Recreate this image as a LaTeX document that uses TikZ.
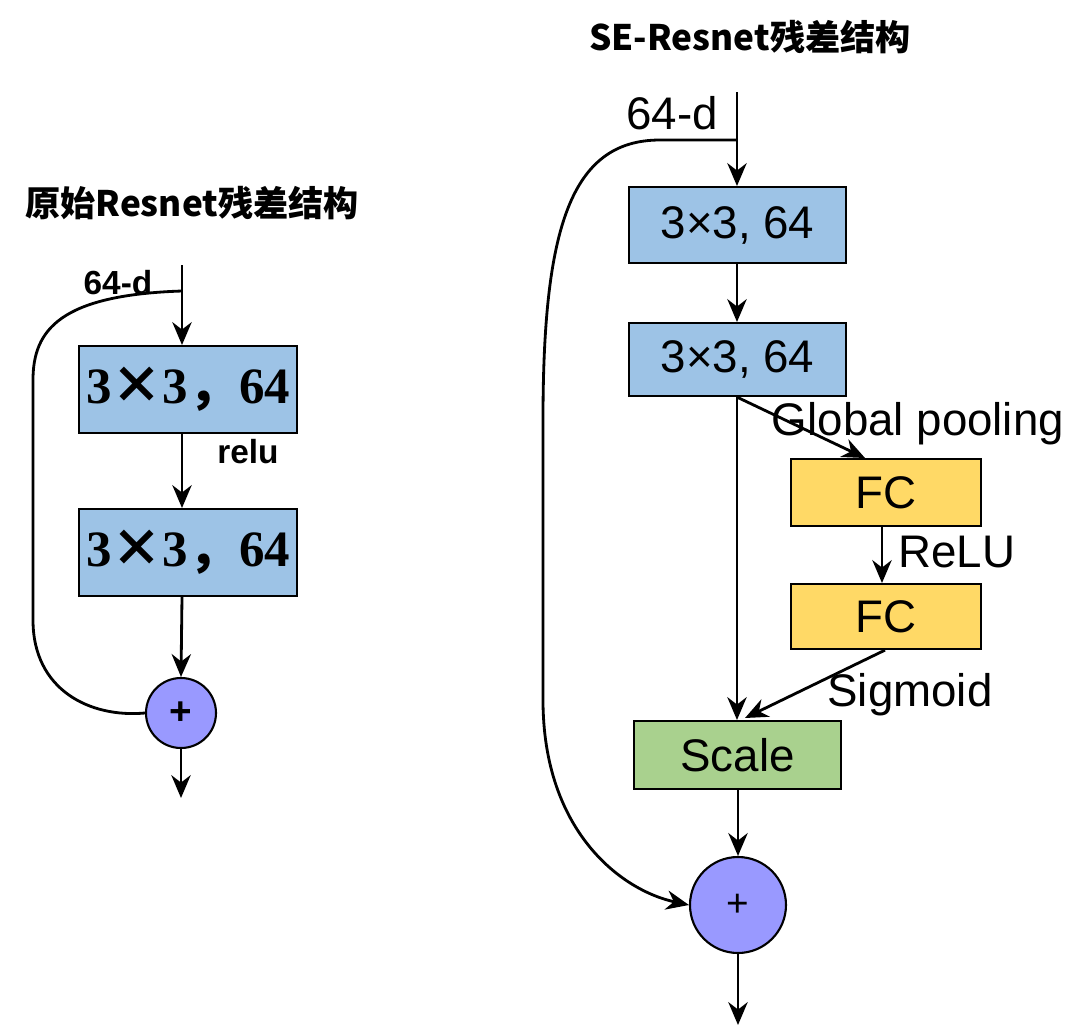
\documentclass[tikz,border=0pt]{standalone}
\usepackage{fontspec}
\setmainfont{Liberation Sans}
\newfontfamily\cjk{Noto Sans CJK SC}
\newfontfamily\tnr{Liberation Serif}
\usetikzlibrary{arrows.meta}
\definecolor{bl}{HTML}{9DC3E6}
\definecolor{ye}{HTML}{FFD966}
\definecolor{gr}{HTML}{A9D18E}
\definecolor{pu}{HTML}{9999FF}
\begin{document}
\begin{tikzpicture}[x=0.02cm,y=-0.02cm,
  box/.style={draw,line width=1.2pt,inner sep=0pt,anchor=north west},
  arr/.style={-{Stealth[length=13pt,width=11pt]},line width=1.6pt},
  rt/.style={font=\fontsize{26pt}{28pt}\selectfont}]
\useasboundingbox (0,0) rectangle (1080,1035);
% left
\node[font=\cjk\bfseries\fontsize{20pt}{22pt}\selectfont] (t1) at (192,203) {原始Resnet残差结构};
\node[font=\bfseries\fontsize{19pt}{21pt}\selectfont] (d1) at (118,283) {64-d};
\coordinate (i1) at (182,265);
\node[box,fill=bl,minimum width=218*0.02cm,minimum height=87*0.02cm,font=\tnr\bfseries\fontsize{29pt}{31pt}\selectfont] (b1) at (78,345) {3{\cjk ×}3{\cjk\bfseries ，}64};
\node[box,fill=bl,minimum width=218*0.02cm,minimum height=87*0.02cm,font=\tnr\bfseries\fontsize{29pt}{31pt}\selectfont] (b2) at (78,508) {3{\cjk ×}3{\cjk\bfseries ，}64};
\node[font=\bfseries\fontsize{19pt}{21pt}\selectfont] (r1) at (248,452) {relu};
\node[circle,draw,line width=1.2pt,fill=pu,minimum size=70*0.02cm,inner sep=0pt,font=\bfseries\fontsize{22pt}{24pt}\selectfont] (p1) at (181,713) {+};
\coordinate (o1) at (181,798);
\draw[arr] (i1) -- (b1.north -| i1);
\draw[arr] (b1.south -| i1) -- (b2.north -| i1);
\draw[arr] (b2.south -| i1) -- (p1.north);
\draw[arr] (p1.south) -- (o1);
\draw[line width=1.6pt] (182,291) .. controls (60,295) and (33,330) .. (33,380) -- (33,620) .. controls (33,690) and (90,718) .. (p1.west);
% right
\node[font=\cjk\bfseries\fontsize{20pt}{22pt}\selectfont] (t2) at (750,37) {SE-Resnet残差结构};
\node[rt] (d2) at (672,113) {64-d};
\coordinate (i2) at (737,92);
\node[box,fill=bl,minimum width=217*0.02cm,minimum height=76*0.02cm,rt] (a) at (628,186) {3×3, 64};
\node[box,fill=bl,minimum width=217*0.02cm,minimum height=73*0.02cm,rt] (b) at (628,322) {3×3, 64};
\node[box,fill=ye,minimum width=190*0.02cm,minimum height=67*0.02cm,rt] (f1) at (790,458) {FC};
\node[box,fill=ye,minimum width=190*0.02cm,minimum height=65*0.02cm,rt] (f2) at (790,583) {FC};
\node[box,fill=gr,minimum width=207*0.02cm,minimum height=68*0.02cm,rt] (s) at (633,720) {Scale};
\node[circle,draw,line width=1.2pt,fill=pu,minimum size=96*0.02cm,inner sep=0pt,font=\fontsize{22pt}{24pt}\selectfont] (p2) at (738,905) {+};
\coordinate (o2) at (738,1025);
\node[rt] (gp) at (918,424) {Global pooling};
\node[rt] (re) at (957,552) {ReLU};
\node[rt] (sg) at (910,695) {Sigmoid};
\draw[arr] (i2) -- (a.north -| i2);
\draw[arr] (a.south -| i2) -- (b.north -| i2);
\draw[arr] (b.south -| i2) -- (s.north -| i2);
\draw[arr] (b.south -| i2) -- (865,458);
\draw[arr] (f1.south -| 882,0) -- (f2.north -| 882,0);
\draw[arr] (f2.south -| 885,0) -- (745,718);
\draw[arr] (s.south -| 738,0) -- (p2.north);
\draw[arr] (p2.south) -- (o2);
\draw[arr] (737,140) -- (660,140) .. controls (570,140) and (543,230) .. (543,420) -- (543,700) .. controls (543,830) and (620,890) .. (p2.west);
\end{tikzpicture}
\end{document}
